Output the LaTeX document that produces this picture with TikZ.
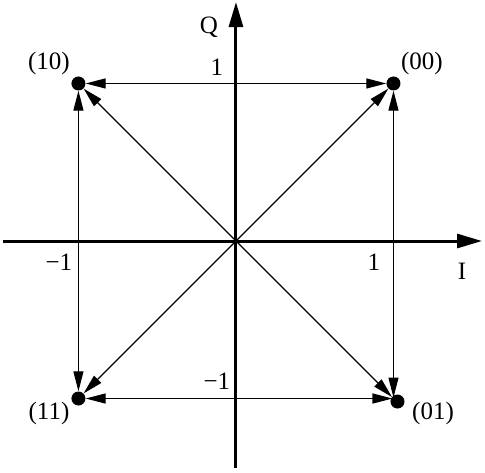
\documentclass[tikz,border=0pt]{standalone}
\usepackage{fontspec}
\setmainfont{Liberation Serif}
\usetikzlibrary{arrows.meta}
\tikzset{
  axis/.style={line width=3pt,-{Triangle[length=25pt,width=14pt]}},
  sig/.style={line width=1.2pt,{Triangle[length=20pt,width=10pt]}-{Triangle[length=20pt,width=10pt]}},
  ray/.style={line width=1.2pt,-{Triangle[length=20pt,width=10pt]}},
  dot/.style={circle,fill,inner sep=0pt,minimum size=14pt},
  lbl/.style={font=\fontsize{25}{30}\selectfont,inner sep=0pt}
}
\begin{document}
\begin{tikzpicture}[x=157.5pt,y=157.5pt]
\useasboundingbox (-1.498,-1.467) rectangle (1.581,1.530);

\coordinate (o) at (0,0);
\coordinate (xa) at (-1.479,0);
\coordinate (xb) at (1.562,0);
\coordinate (ya) at (0,-1.441);
\coordinate (yb) at (0,1.517);
\draw[axis] (xa) -- (xb);
\draw[axis] (ya) -- (yb);

\node[dot] (p10) at (-1,1) {};
\node[dot] (p00) at (1,1) {};
\node[dot] (p11) at (-1,-1) {};
\coordinate (c01) at (1,-1);
\node[dot,xshift=4pt,yshift=-3pt] (p01) at (c01) {};

\draw[sig] (p10) -- (p00);
\draw[sig,shorten >=1pt] (p11) -- (c01);
\draw[sig] (p11) -- (p10);
\draw[sig,shorten <=1pt] (c01) -- (p00);

\draw[ray] (o) -- (p00);
\draw[ray] (o) -- (p10);
\draw[ray] (o) -- (p11);
\draw[ray,shorten >=2pt] (o) -- (c01);

\node[lbl] (q) at (-0.171,1.359) {Q};
\node[lbl] (i) at (1.435,-0.190) {I};
\node[lbl] (t1) at (-0.121,1.105) {1};
\node[lbl] (b1) at (-0.121,-0.889) {−1};
\node[lbl] (l1) at (-1.124,-0.133) {−1};
\node[lbl] (r1) at (0.876,-0.133) {1};

\node[lbl] (s10) at (-1.187,1.124) {(10)};
\node[lbl] (s00) at (1.181,1.124) {(00)};
\node[lbl] (s11) at (-1.187,-1.098) {(11)};
\node[lbl] (s01) at (1.251,-1.098) {(01)};
\end{tikzpicture}
\end{document}
